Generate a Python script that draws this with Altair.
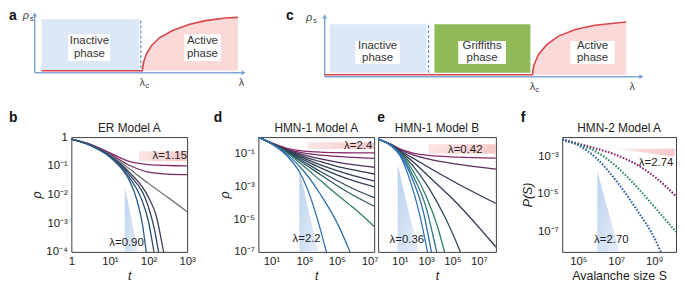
import json
import math
import pandas as pd
import altair as alt

FONT = "Liberation Sans"
INK = "#222222"

# ---------------- panel a (schematic, lambda units 0..1) ----------------
A_LAMBDA_C = 0.515
A_BOXES = [(0.033, 0.500, 0.034, 0.915, "#dce8f5")]
A_LAB_BOXES = [(0.160, 0.360, 0.200, 0.660), (0.716, 0.891, 0.200, 0.660)]
A_LAB_CX = [0.262, 0.803]
A_LAB_L1 = ["Inactive", "Active"]
A_LAB_L2 = ["phase", "phase"]
A_TEXT_Y = [0.54, 0.316]
A_RHO_X = [0.033, 0.515, 0.521, 0.534, 0.558, 0.597, 0.660, 0.739, 0.818, 0.913, 0.973]
A_RHO_Y = [0.034, 0.034, 0.175, 0.317, 0.458, 0.599, 0.724, 0.825, 0.893, 0.938, 0.949]
A_DASH = (0.508, 0.080, 0.915)
A_AXIS_END = (1.0, 1.0)
A_LAM_END = 0.99
A_RHO_LABEL = (-0.043, 0.966)

# ---------------- panel c (schematic) ----------------
C_LAMBDA_C = 0.636
C_BOXES = [(0.015, 0.312, 0.063, 0.841, "#dce8f5"), (0.336, 0.630, 0.063, 0.841, "#8fba57")]
C_LAB_BOXES = [(0.094, 0.230, 0.206, 0.571), (0.409, 0.555, 0.206, 0.571), (0.752, 0.888, 0.206, 0.571)]
C_LAB_CX = [0.162, 0.482, 0.820]
C_LAB_L1 = ["Inactive", "Griffiths", "Active"]
C_LAB_L2 = ["phase", "phase", "phase"]
C_TEXT_Y = [0.492, 0.306]
C_RHO_X = [0.0, 0.636, 0.637, 0.640, 0.655, 0.681, 0.716, 0.767, 0.827, 0.923]
C_RHO_Y = [0.032, 0.032, 0.068, 0.175, 0.360, 0.519, 0.651, 0.757, 0.825, 0.878]
C_DASH = (0.318, 0.063, 0.860)
C_AXIS_END = (0.97, 0.968)
C_LAM_END = 0.942
C_RHO_LABEL = (-0.048, 0.937)

# ---------------- panel b : ER Model A (log10 t, log10 rho) ----------------
B_P1 = [(0, -0.07), (0.5, -0.25), (1, -0.55), (1.5, -0.85), (2, -0.96), (2.5, -0.99), (3, -1.0)]
B_P2 = [(0, -0.07), (0.5, -0.26), (1, -0.58), (1.5, -0.98), (2, -1.22), (2.5, -1.29), (3, -1.31)]
B_CRIT = [(0, -0.07), (0.5, -0.27), (1, -0.62), (1.5, -1.1), (2, -1.62), (2.5, -2.1), (3, -2.6)]
B_S4 = [(0, -0.07), (0.5, -0.28), (1, -0.65), (1.5, -1.22), (2, -2.1), (2.2, -2.75), (2.39, -4.0), (2.5, -4.8)]
B_S3 = [(0, -0.07), (0.5, -0.28), (1, -0.66), (1.5, -1.3), (2, -2.45), (2.15, -3.2), (2.26, -4.0), (2.35, -4.7)]
B_S2 = [(0, -0.07), (0.5, -0.29), (1, -0.67), (1.5, -1.4), (1.8, -2.1), (2.0, -2.95), (2.14, -4.0), (2.2, -4.5)]
B_S1 = [(0, -0.07), (0.5, -0.3), (1, -0.7), (1.3, -1.1), (1.5, -1.5), (1.7, -2.2), (1.85, -3.1), (1.94, -4.0), (2.0, -4.6)]
B_COLORS = ["#8c2a6e", "#74285f", "#7a7a7a", "#3b3f55", "#2f4460", "#2a4e72", "#2a5a8a"]
B_XVALS = [1, 10, 100, 1000]
B_XLABS = ["1", "10¹", "10²", "10³"]
B_YVALS = [1e-4, 1e-3, 1e-2, 1e-1, 1]
B_YLABS = ["10⁻⁴", "10⁻³", "10⁻²", "10⁻¹", "1"]

# ---------------- panel d : HMN-1 Model A ----------------
D_LOGT = [0.2, 1.0, 2.0, 3.0, 4.0, 5.0, 6.0, 7.28]
D1 = [0, -0.35, -0.70, -0.85, -0.92, -0.95, -0.96, -0.96]
D2 = [0, -0.36, -0.75, -0.98, -1.10, -1.18, -1.24, -1.30]
D3 = [0, -0.37, -0.80, -1.10, -1.33, -1.52, -1.68, -1.84]
D4 = [0, -0.37, -0.83, -1.20, -1.50, -1.78, -2.00, -2.25]
D5 = [0, -0.38, -0.86, -1.30, -1.70, -2.05, -2.35, -2.67]
D6 = [0, -0.38, -0.90, -1.40, -1.88, -2.30, -2.66, -3.03]
D7 = [0, -0.39, -0.93, -1.52, -2.10, -2.65, -3.15, -3.69]
D8 = [0, -0.39, -0.96, -1.62, -2.30, -2.95, -3.55, -4.22]
D9 = [0, -0.40, -1.00, -1.80, -2.65, -3.50, -4.30, -5.45]
D10 = [(0.2, 0), (1, -0.40), (2, -1.10), (3, -2.10), (4, -3.50), (5, -5.20), (5.8, -7.0), (6.0, -7.5)]
D11 = [(0.2, 0), (1, -0.40), (2, -1.20), (2.74, -2.17), (3.35, -3.57), (3.86, -5.17), (4.36, -7.0), (4.5, -7.5)]
D_COLORS = ["#8c2a6e", "#7a2b66", "#4b2f58", "#333a52", "#2f3d55", "#2e4257", "#2e4a5c", "#2f5a64",
            "#2f7f66", "#2c6fa8", "#2f6fb5"]
D_XVALS = [1e1, 1e3, 1e5, 1e7]
D_XLABS = ["10¹", "10³", "10⁵", "10⁷"]
D_YVALS = [1e-7, 1e-5, 1e-3, 1e-1]
D_YLABS = ["10⁻⁷", "10⁻⁵", "10⁻³", "10⁻¹"]

# ---------------- panel e : HMN-1 Model B ----------------
E1 = [(-0.65, -0.12), (0.3, -0.42), (1.0, -0.72), (2.0, -0.98), (3.2, -1.12), (5.3, -1.22), (8.3, -1.28)]
E2 = [(-0.65, -0.12), (0.3, -0.43), (1.0, -0.77), (2.0, -1.08), (3.2, -1.35), (5.3, -1.65), (8.3, -1.95)]
E3 = [(-0.65, -0.12), (0.3, -0.45), (1.0, -0.82), (2.0, -1.28), (3.2, -1.85), (5.3, -2.80), (8.3, -4.05)]
E4 = [(-0.65, -0.12), (0.3, -0.46), (1.0, -0.87), (2.0, -1.50), (3.2, -2.40), (5.3, -4.00), (8.3, -6.70)]
E5 = [(-0.65, -0.12), (0.3, -0.47), (1.0, -0.92), (2.0, -1.75), (3.2, -3.10), (4.5, -5.0), (5.6, -7.0), (5.8, -7.4)]
E6 = [(-0.65, -0.12), (0.3, -0.48), (1.0, -0.97), (2.0, -2.05), (3.0, -3.60), (3.8, -5.3), (4.4, -7.0), (4.6, -7.6)]
E7 = [(-0.65, -0.12), (0.3, -0.49), (1.0, -1.02), (2.0, -2.35), (3.0, -4.30), (3.8, -7.0), (4.0, -7.7)]
E8 = [(-0.65, -0.12), (0.3, -0.50), (1.0, -1.07), (2.0, -2.65), (2.8, -4.60), (3.4, -7.0), (3.6, -7.8)]
E9 = [(-0.65, -0.12), (0.3, -0.52), (1.0, -1.12), (1.8, -2.70), (2.5, -4.70), (3.1, -7.0), (3.3, -7.8)]
E_COLORS = ["#8c2a6e", "#5c2c5c", "#2f3a52", "#2f3d55", "#2e4a5c", "#2f7f66", "#2e7488", "#2c6aa8", "#2f72c0"]
E_XVALS = [1e1, 1e3, 1e5, 1e7]
E_XLABS = ["10¹", "10³", "10⁵", "10⁷"]

# ---------------- panel f : HMN-2 Model A (log10 S, log10 P) ----------------
F_PURPLE = [(4.15, -2.08), (5.0, -2.30), (5.96, -2.57), (7.0, -2.91), (8.04, -3.40), (9.09, -4.13), (10.15, -5.12)]
F_GREEN = [(4.15, -2.08), (5.0, -2.34), (5.96, -2.74), (7.0, -3.52), (8.04, -4.57), (9.09, -5.78), (10.15, -7.03)]
F_BLUE = [(4.15, -2.08), (5.0, -2.39), (5.96, -3.09), (7.0, -4.30), (8.04, -5.78), (9.09, -7.52), (9.35, -8.1), (9.5, -8.4)]
F_COLORS = ["#8a1f6b", "#2a8a60", "#2b5fa6"]
F_XVALS = [1e5, 1e7, 1e9]
F_XLABS = ["10⁵", "10⁷", "10⁹"]
F_YVALS = [1e-7, 1e-5, 1e-3]
F_YLABS = ["10⁻⁷", "10⁻⁵", "10⁻³"]


# ======================= helpers =======================
def letter_layer(letter, dx, dy):
    return alt.Chart(pd.DataFrame({"k": [0]})).mark_text(
        font=FONT, fontSize=14, fontWeight="bold", align="left", baseline="top", color="#111").encode(
        x=alt.value(dx), y=alt.value(dy), text=alt.value(letter))


def schematic(width, height, boxes, lab_boxes, lab_cx, l1, l2, text_y, rho_x, rho_y,
              lam_c, dash, axis_end, lam_end, rho_label, letter, letter_dx):
    sc = alt.Scale(domain=[0, 1], nice=False, zero=False)

    def X(f="x"):
        return alt.X(f + ":Q", scale=sc, axis=None)

    def Y(f="y"):
        return alt.Y(f + ":Q", scale=sc, axis=None)

    layers = []
    df_box = pd.DataFrame(boxes, columns=["x", "x2", "y", "y2", "c"])
    layers.append(alt.Chart(df_box).mark_rect().encode(
        x=X(), x2="x2:Q", y=Y(), y2="y2:Q", color=alt.Color("c:N", scale=None)))
    act = [(x, y) for x, y in zip(rho_x, rho_y) if x >= lam_c - 1e-9]
    df_area = pd.DataFrame({"x": [p[0] for p in act], "y": [p[1] for p in act],
                            "y2": [rho_y[0]] * len(act)})
    layers.append(alt.Chart(df_area).mark_area(color="#fbd9d9").encode(x=X(), y=Y(), y2="y2:Q"))
    df_lb = pd.DataFrame(lab_boxes, columns=["x", "x2", "y", "y2"])
    layers.append(alt.Chart(df_lb).mark_rect(color="white").encode(x=X(), x2="x2:Q", y=Y(), y2="y2:Q"))
    df_dash = pd.DataFrame({"x": [dash[0]], "y": [dash[1]], "y2": [dash[2]]})
    layers.append(alt.Chart(df_dash).mark_rule(color="#5d8fcb", strokeDash=[3, 2], strokeWidth=1.2).encode(
        x=X(), y=Y(), y2="y2:Q"))
    df_ax = pd.DataFrame({"x": [0, 0], "x2": [0, axis_end[0]], "y": [0, 0], "y2": [axis_end[1], 0]})
    layers.append(alt.Chart(df_ax).mark_rule(color="#7ea7d8", strokeWidth=1.5).encode(
        x=X(), x2="x2:Q", y=Y(), y2="y2:Q"))
    df_arr = pd.DataFrame({"x": [0, axis_end[0]], "y": [axis_end[1], 0], "s": ["triangle-up", "triangle-right"]})
    layers.append(alt.Chart(df_arr).mark_point(filled=True, color="#7ea7d8", size=24, opacity=1).encode(
        x=X(), y=Y(), shape=alt.Shape("s:N", scale=None)))
    df_red = pd.DataFrame({"x": rho_x, "y": rho_y, "i": list(range(len(rho_x)))})
    layers.append(alt.Chart(df_red).mark_line(color="#d6474b", strokeWidth=1.6).encode(
        x=X(), y=Y(), order="i:Q"))
    rows = []
    for cx, a, b in zip(lab_cx, l1, l2):
        rows.append({"x": cx, "y": text_y[0], "t": a})
        rows.append({"x": cx, "y": text_y[1], "t": b})
    layers.append(alt.Chart(pd.DataFrame(rows)).mark_text(font=FONT, fontSize=11.5, color="#333").encode(
        x=X(), y=Y(), text="t:N"))
    df_lam = pd.DataFrame({"x": [lam_c, lam_end], "y": [0, 0], "t": ["λ", "λ"]})
    layers.append(alt.Chart(df_lam).mark_text(font=FONT, fontSize=11, color="#444", dy=10).encode(
        x=X(), y=Y(), text="t:N"))
    df_sub = pd.DataFrame({"x": [lam_c], "y": [0], "t": ["c"]})
    layers.append(alt.Chart(df_sub).mark_text(font=FONT, fontSize=8, color="#444", dx=5, dy=13).encode(
        x=X(), y=Y(), text="t:N"))
    df_rho = pd.DataFrame({"x": [rho_label[0]], "y": [rho_label[1]], "t": ["ρ"]})
    layers.append(alt.Chart(df_rho).mark_text(font=FONT, fontSize=11, fontStyle="italic", color="#444").encode(
        x=X(), y=Y(), text="t:N"))
    layers.append(alt.Chart(df_rho).mark_text(font=FONT, fontSize=8, color="#444", dx=6, dy=3).encode(
        x=X(), y=Y(), text=alt.value("s")))
    layers.append(letter_layer(letter, letter_dx, -5))
    return alt.layer(*layers).properties(width=width, height=height,
                                         view=alt.ViewBackground(strokeOpacity=0))


def log_axis(vals, labs, title, italic=True):
    exps = [round(math.log10(v)) for v in vals]
    step = exps[1] - exps[0]
    expr = "%s[round((log(datum.value)/LN10 - (%d))/%d)]" % (json.dumps(labs, ensure_ascii=False), exps[0], step)
    return alt.Axis(values=vals, labelExpr=expr, title=title, ticks=False, domain=False, grid=False,
                    labelFlush=False, labelOverlap=False, labelFontSize=11.5, labelColor=INK,
                    labelFont=FONT, titleFont=FONT, titleFontSize=12.5, titleColor=INK,
                    titleFontWeight="normal", titleFontStyle="italic" if italic else "normal",
                    labelPadding=4, titlePadding=2)


def log_panel(curves, colors, xdom, ydom, xaxis, yaxis, title, width, height,
              blue, pink, labels, letter, letter_dx, dotted=False):
    xs = alt.Scale(type="log", domain=[10 ** xdom[0], 10 ** xdom[1]], nice=False)
    ys = alt.Scale(type="log", domain=[10 ** ydom[0], 10 ** ydom[1]], nice=False)

    def X(f="x"):
        return alt.X(f + ":Q", scale=xs, axis=xaxis)

    def Y(f="y"):
        return alt.Y(f + ":Q", scale=ys, axis=yaxis)

    rows = []
    for k, (pts, col) in enumerate(zip(curves, colors)):
        for i, (lx, ly) in enumerate(pts):
            rows.append({"x": 10 ** lx, "y": 10 ** ly, "curve": "c%d" % k, "col": col, "i": i})
    df = pd.DataFrame(rows)
    layers = []
    df_b = pd.DataFrame({"x": [10 ** p[0] for p in blue], "y": [10 ** p[1] for p in blue],
                         "y2": [10 ** p[2] for p in blue]})
    blue_grad = alt.LinearGradient(gradient="linear", x1=0, x2=1, y1=0, y2=1,
                                   stops=[alt.GradientStop(color="#bcd2ee", offset=0),
                                          alt.GradientStop(color="#e4edf8", offset=1)])
    layers.append(alt.Chart(df_b).mark_area(color=blue_grad, clip=True).encode(x=X(), y=Y(), y2="y2:Q"))
    df_p = pd.DataFrame({"x": [10 ** p[0] for p in pink], "y": [10 ** p[1] for p in pink],
                         "y2": [10 ** p[2] for p in pink]})
    pink_grad = alt.LinearGradient(gradient="linear", x1=0, x2=1, y1=0, y2=0,
                                   stops=[alt.GradientStop(color="#fbe6e6", offset=0),
                                          alt.GradientStop(color="#f6c8c8", offset=1)])
    layers.append(alt.Chart(df_p).mark_area(color=pink_grad, clip=True).encode(x=X(), y=Y(), y2="y2:Q"))
    if dotted:
        line = alt.Chart(df).mark_line(clip=True, strokeWidth=2.1, strokeDash=[1.6, 1.6], interpolate="monotone")
    else:
        line = alt.Chart(df).mark_line(clip=True, strokeWidth=1.3, interpolate="monotone")
    layers.append(line.encode(x=X(), y=Y(), detail="curve:N", color=alt.Color("col:N", scale=None),
                              order="i:Q"))
    df_t = pd.DataFrame({"x": [10 ** l[1] for l in labels], "y": [10 ** l[2] for l in labels],
                         "t": [l[0] for l in labels]})
    layers.append(alt.Chart(df_t).mark_text(font=FONT, fontSize=11.5, color=INK).encode(
        x=X(), y=Y(), text="t:N"))
    layers.append(alt.Chart(pd.DataFrame({"k": [0]})).mark_text(
        font=FONT, fontSize=12, color=INK, baseline="alphabetic").encode(
        x=alt.value(width / 2), y=alt.value(-5), text=alt.value(title)))
    layers.append(letter_layer(letter, letter_dx, -26))
    return alt.layer(*layers).properties(width=width, height=height)


def spacer(width, height):
    return alt.Chart(pd.DataFrame({"v": [0]})).mark_text(
        text="", align="left", baseline="top").encode(
        x=alt.value(0), y=alt.value(0)).properties(
        width=width, height=height, view=alt.ViewBackground(strokeOpacity=0))


# ======================= panels =======================
panel_a = schematic(211, 59, A_BOXES, A_LAB_BOXES, A_LAB_CX, A_LAB_L1, A_LAB_L2, A_TEXT_Y,
                    A_RHO_X, A_RHO_Y, A_LAMBDA_C, A_DASH, A_AXIS_END, A_LAM_END, A_RHO_LABEL, "a", -26)
panel_c = schematic(330, 63, C_BOXES, C_LAB_BOXES, C_LAB_CX, C_LAB_L1, C_LAB_L2, C_TEXT_Y,
                    C_RHO_X, C_RHO_Y, C_LAMBDA_C, C_DASH, C_AXIS_END, C_LAM_END, C_RHO_LABEL, "c", -39)

H = 116
panel_b = log_panel(
    [B_P1, B_P2, B_CRIT, B_S4, B_S3, B_S2, B_S1], B_COLORS, (0, 3), (-4, 0),
    log_axis(B_XVALS, B_XLABS, "t"), log_axis(B_YVALS, B_YLABS, "ρ"), "ER Model A", 117, H,
    blue=[(1.385, -1.72, -4), (1.73, -4, -4)],
    pink=[(1.75, -0.49, -0.84), (3.0, -0.49, -0.84)],
    labels=[("λ=1.15", 2.55, -0.66), ("λ=0.90", 1.43, -3.68)], letter="b", letter_dx=-63)

d_curves = [list(zip(D_LOGT, v)) for v in [D1, D2, D3, D4, D5, D6, D7, D8, D9]] + [D10, D11]
panel_d = log_panel(
    d_curves, D_COLORS, (0.2, 7.28), (-7, 0),
    log_axis(D_XVALS, D_XLABS, "t"), log_axis(D_YVALS, D_YLABS, "ρ"), "HMN-1  Model A", 117, H,
    blue=[(2.7, -1.98, -7), (3.86, -7, -7)],
    pink=[(3.2, -0.32, -0.72), (7.28, -0.32, -0.72)],
    labels=[("λ=2.4", 6.3, -0.54), ("λ=2.2", 3.15, -6.2)], letter="d", letter_dx=-45)

panel_e = log_panel(
    [E1, E2, E3, E4, E5, E6, E7, E8, E9], E_COLORS, (-0.65, 8.3), (-7, 0),
    log_axis(E_XVALS, E_XLABS, "t"), None, "HMN-1  Model B", 119, H,
    blue=[(0.83, -1.67, -7), (2.41, -7, -7)],
    pink=[(3.16, -0.44, -1.02), (8.3, -0.44, -1.02)],
    labels=[("λ=0.42", 5.97, -0.78), ("λ=0.36", 1.53, -6.3)], letter="e", letter_dx=-1)

panel_f = log_panel(
    [F_PURPLE, F_GREEN, F_BLUE], F_COLORS, (4.15, 10.15), (-8.1, -1.95),
    log_axis(F_XVALS, F_XLABS, "Avalanche size S", italic=False), log_axis(F_YVALS, F_YLABS, "P(S)"),
    "HMN-2  Model A", 115, H,
    blue=[(6.0, -3.78, -8.1), (7.17, -8.1, -8.1)],
    pink=[(7.0, -2.57, -2.57), (10.08, -2.57, -3.0)],
    labels=[("λ=2.74", 9.1, -3.35), ("λ=2.70", 6.74, -7.47)], letter="f", letter_dx=-42, dotted=True)

top = alt.hconcat(spacer(22, 59), panel_a, spacer(74, 59), panel_c, spacing=4, bounds="flush")
bottom = alt.hconcat(spacer(59, H), panel_b, spacer(64, H), panel_d, panel_e, spacer(59, H), panel_f,
                     spacing=4, bounds="flush")
chart = alt.vconcat(top, bottom, spacing=17, bounds="full").properties(padding=0)
chart = chart.configure(font=FONT).configure_view(stroke="#3c3c3c", strokeWidth=1)

chart.save("out.html", embed_options={"renderer": "svg", "actions": False})
